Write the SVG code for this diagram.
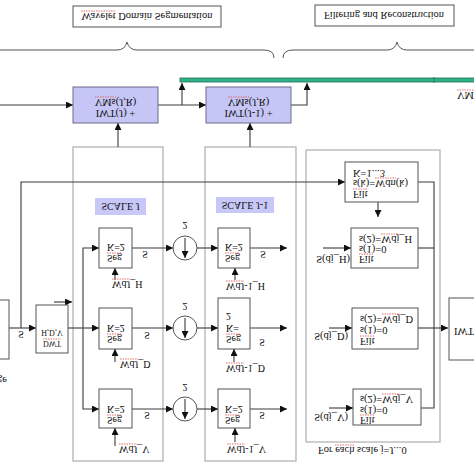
<svg xmlns="http://www.w3.org/2000/svg" width="474" height="474" viewBox="0 0 474 474">
<defs>
<style>
.t{font-family:"Liberation Serif","Times New Roman",serif;font-size:10.5px;fill:#111}
.s{font-size:10px}
.xs{font-size:8px}
.m{text-anchor:middle}
.e{text-anchor:end}
.bx{fill:#fff;stroke:#555;stroke-width:1}
.bl{fill:#c6c6f6;stroke:#6a6a8a;stroke-width:1}
.fr{fill:none;stroke:#b4b4b4;stroke-width:1.3}
.ln{fill:none;stroke:#3a3a3a;stroke-width:1.1}
.ar{marker-end:url(#ah)}
.br{fill:none;stroke:#555;stroke-width:1}
.sq{fill:none;stroke:#e06060;stroke-width:0.9;stroke-dasharray:1.5 1}
</style>
<marker id="ah" viewBox="0 0 10 10" refX="10" refY="5" markerWidth="8" markerHeight="7" markerUnits="userSpaceOnUse" orient="auto"><path d="M0,0 L10,5 L0,10 z" fill="#111"/></marker>
</defs>
<rect width="474" height="474" fill="#fff"/>

<g id="labels">
<rect x="73" y="6" width="148" height="21" class="bx" stroke="#666"/>
<text class="t m" transform="matrix(1 0 0 -1 147 13)">Wavelet Domain Segmentation</text>
<rect x="315" y="5" width="139" height="21" class="bx" stroke="#666"/>
<text class="t m" transform="matrix(1 0 0 -1 384 12)">Filtering and Reconstruction</text>
<path class="br" d="M-20,58 Q-20,50 -10,50 L117,50 Q125,50 127,42 Q129,50 137,50 L264,50 Q274,50 274,58"/>
<path class="br" d="M283,58 Q283,50 293,50 L387,50 Q395,50 397,42 Q399,50 407,50 L480,50"/>
</g>

<g id="greenline">
<rect x="180" y="78" width="296" height="4" fill="#2fb38a" stroke="#1d6e55" stroke-width="0.8"/>
<line x1="434" y1="77" x2="434" y2="83" stroke="#1d6e55" stroke-width="0.8"/>
<text class="t" transform="matrix(1 0 0 -1 457 92)">VMs(0,R)</text>
</g>

<g id="frames">
<rect x="73" y="147" width="90" height="314" class="fr"/>
<rect x="205" y="147" width="91" height="314" class="fr"/>
<rect x="306" y="150" width="134" height="292" class="fr"/>
<text class="t" transform="matrix(1 0 0 -1 318 447)">For each scale j=J...0</text>
</g>

<g id="connectors">
<path class="ln ar" d="M0,105 H73"/>
<path class="ln ar" d="M158,105 H206"/>
<path class="ln ar" d="M182,105 V83"/>
<path class="ln ar" d="M291,105 H307 V83"/>
<path class="ln ar" d="M118,147 V123"/>
<path class="ln ar" d="M250,147 V123"/>
<path class="ln ar" d="M9,328 H36"/>
<path class="ln ar" d="M21,328 V182 H345"/>
<path class="ln ar" d="M54,302 H72"/>
<path class="ln ar" d="M68,328 H99"/>
<path class="ln ar" d="M83,328 V248 H99"/>
<path class="ln ar" d="M83,328 V409 H99"/>
<path class="ln ar" d="M115,280 V268"/>
<path class="ln ar" d="M115,362 V349"/>
<path class="ln ar" d="M115,446 V428"/>
<path class="ln ar" d="M235,280 V268"/>
<path class="ln ar" d="M234,362 V349"/>
<path class="ln ar" d="M235,442 V428"/>
<path class="ln ar" d="M132,248 H173"/>
<path class="ln ar" d="M132,328 H173"/>
<path class="ln ar" d="M132,409 H173"/>
<path class="ln ar" d="M197,248 H218"/>
<path class="ln ar" d="M197,328 H218"/>
<path class="ln ar" d="M197,409 H218"/>
<path class="ln ar" d="M250,248 H287"/>
<path class="ln ar" d="M250,328 H287"/>
<path class="ln ar" d="M250,409 H287"/>
<path class="ln ar" d="M378,202 V217"/>
<path class="ln" d="M418,182 H434 V408 H421"/>
<path class="ln" d="M418,248 H434"/>
<path class="ln ar" d="M418,328 H448"/>
<path class="ln ar" d="M323,248 H351"/>
<path class="ln ar" d="M329,328 H352"/>
<path class="ln ar" d="M329,408 H353"/>
<text class="t s m" transform="matrix(1 0 0 -1 21 331)">S</text>
<text class="t s m" transform="matrix(1 0 0 -1 145 251)">S</text>
<text class="t s m" transform="matrix(1 0 0 -1 147 332)">S</text>
<text class="t s m" transform="matrix(1 0 0 -1 147 412)">S</text>
<text class="t s m" transform="matrix(1 0 0 -1 263 251)">S</text>
<text class="t s m" transform="matrix(1 0 0 -1 262 339)">S</text>
<text class="t s m" transform="matrix(1 0 0 -1 262 412)">S</text>
<text class="t s" transform="matrix(1 0 0 -1 112 281)">WdJ_H</text>
<text class="t s" transform="matrix(1 0 0 -1 120 361)">WdJ_D</text>
<text class="t s" transform="matrix(1 0 0 -1 119 446)">WdJ_V</text>
<text class="t s" transform="matrix(1 0 0 -1 226 283)">WdJ-1_H</text>
<text class="t s" transform="matrix(1 0 0 -1 226 365)">WdJ-1_D</text>
<text class="t s" transform="matrix(1 0 0 -1 227 446)">WdJ-1_V</text>
<text class="t e" transform="matrix(1 0 0 -1 350 256)">S(dj_H)</text>
<text class="t e" transform="matrix(1 0 0 -1 348 333)">S(dj_D)</text>
<text class="t e" transform="matrix(1 0 0 -1 348 414)">S(dj_V)</text>
</g>

<g id="input">
<rect x="-2" y="300" width="11" height="59" class="bx"/>
<text class="t e" transform="matrix(1 0 0 -1 7 377)">Image</text>
</g>

<g id="iwt-j">
<rect x="73" y="87" width="85" height="36" class="bl"/>
<text class="t m" transform="matrix(1 0 0 -1 115.5 110)">IWT(J) +</text>
<text class="t m" transform="matrix(1 0 0 -1 115.5 99)">VMs(J,R)</text>
</g>
<g id="iwt-j1">
<rect x="206" y="87" width="85" height="36" class="bl"/>
<text class="t m" transform="matrix(1 0 0 -1 248.5 110)">IWT(J-1) +</text>
<text class="t m" transform="matrix(1 0 0 -1 248.5 99)">VMs(J,R)</text>
</g>

<g id="dwt">
<rect x="36" y="305" width="32" height="48" class="bx"/>
<text class="t xs m" transform="matrix(1 0 0 -1 52 341)">DWT</text>
<text class="t xs m" transform="matrix(1 0 0 -1 52 330)">H,D,V</text>
</g>

<g id="scale-j">
<rect x="95" y="198" width="51" height="17" fill="#c8c8f8"/>
<text class="t s m" transform="matrix(1 0 0 -1 120.5 203)">SCALE J</text>
</g>
<g id="scale-j1">
<rect x="216" y="197" width="58" height="16" fill="#c8c8f8"/>
<text class="t s m" transform="matrix(1 0 0 -1 245 202)">SCALE J-1</text>
</g>

<g id="seg-j-h"><rect x="99" y="228" width="33" height="40" class="bx"/>
<text class="t s" transform="matrix(1 0 0 -1 107 255)">Seg</text><text class="t s" transform="matrix(1 0 0 -1 107 244)">K=2</text></g>
<g id="seg-j-d"><rect x="99" y="308" width="33" height="41" class="bx"/>
<text class="t s" transform="matrix(1 0 0 -1 107 336)">Seg</text><text class="t s" transform="matrix(1 0 0 -1 107 325)">K=2</text></g>
<g id="seg-j-v"><rect x="99" y="389" width="33" height="39" class="bx"/>
<text class="t s" transform="matrix(1 0 0 -1 107 417)">Seg</text><text class="t s" transform="matrix(1 0 0 -1 107 406)">K=2</text></g>

<g id="seg-j1-h"><rect x="218" y="228" width="32" height="40" class="bx"/>
<text class="t s" transform="matrix(1 0 0 -1 225 255)">Seg</text><text class="t s" transform="matrix(1 0 0 -1 225 244)">K=2</text></g>
<g id="seg-j1-d"><rect x="218" y="298" width="32" height="51" class="bx"/>
<text class="t s" transform="matrix(1 0 0 -1 226 336)">Seg</text><text class="t s" transform="matrix(1 0 0 -1 226 325)">K=</text><text class="t s" transform="matrix(1 0 0 -1 226 313)">2</text></g>
<g id="seg-j1-v"><rect x="218" y="389" width="32" height="39" class="bx"/>
<text class="t s" transform="matrix(1 0 0 -1 225 417)">Seg</text><text class="t s" transform="matrix(1 0 0 -1 225 406)">K=2</text></g>

<g id="down-h"><circle cx="185" cy="248" r="12" class="bx"/><path class="ln ar" d="M185,238 V258"/>
<text class="t s m" transform="matrix(1 0 0 -1 185 222)">2</text></g>
<g id="down-d"><circle cx="185" cy="328" r="12" class="bx"/><path class="ln ar" d="M185,318 V338"/>
<text class="t s m" transform="matrix(1 0 0 -1 185 303)">2</text></g>
<g id="down-v"><circle cx="185" cy="409" r="12" class="bx"/><path class="ln ar" d="M185,399 V419"/>
<text class="t s m" transform="matrix(1 0 0 -1 185 384)">2</text></g>

<g id="filt-a"><rect x="345" y="162" width="73" height="40" class="bx"/>
<text class="t" transform="matrix(1 0 0 -1 353 191)">Filt</text>
<text class="t" transform="matrix(1 0 0 -1 353 180)">s(k)=Wdn(k)</text>
<text class="t" transform="matrix(1 0 0 -1 353 170)">K=1...3</text></g>
<g id="filt-h"><rect x="351" y="228" width="67" height="40" class="bx"/>
<text class="t" transform="matrix(1 0 0 -1 359 256)">Filt</text>
<text class="t" transform="matrix(1 0 0 -1 359 246)">s(1)=0</text>
<text class="t" transform="matrix(1 0 0 -1 359 236)">s(2)=Wdj_H</text></g>
<g id="filt-d"><rect x="352" y="308" width="66" height="41" class="bx"/>
<text class="t" transform="matrix(1 0 0 -1 360 338)">Filt</text>
<text class="t" transform="matrix(1 0 0 -1 360 327)">s(1)=0</text>
<text class="t" transform="matrix(1 0 0 -1 360 316)">s(2)=Wdj_D</text></g>
<g id="filt-v"><rect x="353" y="389" width="68" height="36" class="bx"/>
<text class="t" transform="matrix(1 0 0 -1 360 417)">Filt</text>
<text class="t" transform="matrix(1 0 0 -1 360 407)">s(1)=0</text>
<text class="t" transform="matrix(1 0 0 -1 360 396)">s(2)=Wdj_V</text></g>

<g id="iwt-out"><rect x="449" y="298" width="40" height="62" class="bx"/>
<text class="t" transform="matrix(1 0 0 -1 454 328)">IWT</text></g>

<g id="spellmarks">
<path class="sq" d="M81,11 H116"/>
<path class="sq" d="M95,97 H116 M228,97 H249"/>
<path class="sq" d="M457,90 H474"/>
<path class="sq" d="M107,253 H122 M107,334 H122 M107,415 H122 M225,253 H240 M226,334 H241 M225,415 H240"/>
<path class="sq" d="M43,339 H61"/>
<path class="sq" d="M112,279 H130 M120,359 H138 M119,444 H137 M226,281 H244 M226,363 H244 M227,444 H245"/>
<path class="sq" d="M353,189 H368 M359,254 H374 M360,336 H375 M360,415 H375"/>
<path class="sq" d="M375,178 H396 M381,234 H399 M382,314 H400 M382,394 H400"/>
<path class="sq" d="M335,445 H354"/>
</g>
</svg>
